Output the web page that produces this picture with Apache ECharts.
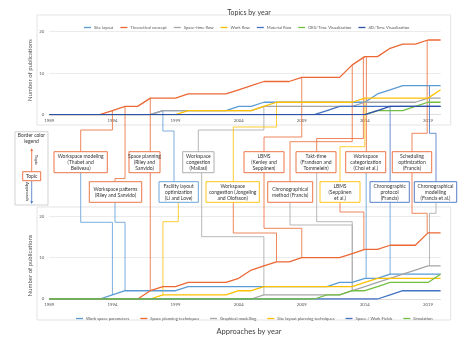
<!DOCTYPE html>
<html><head><meta charset="utf-8">
<script src="https://cdn.jsdelivr.net/npm/echarts@6/dist/echarts.min.js"></script>
<style>html,body{margin:0;padding:0;background:#fff}#main{width:474px;height:341px}</style>
</head><body><div id="main"></div>
<script>
// ---------- DATA ----------
const years = ['1989','1990','1991','1992','1993','1994','1995','1996','1997','1998','1999','2000','2001','2002','2003','2004','2005','2006','2007','2008','2009','2010','2011','2012','2013','2014','2015','2016','2017','2018','2019','2020'];
const yTicks = [0, 10, 20];

const topicNames = ['Site layout','Theoretical concept','Space-time flow','Work flow','Material flow','DES/Time Visualization','4D/Time Visualization'];
const siteLayout   = [0,0,0,0,0,0,0,0,0,1,1,1,1,1,1,2,2,3,3,3,3,3,3,3,3,3,5,6,7,7,7,7];
const theoretical  = [0,0,0,0,0,1,2,2,4,4,4,5,5,5,5,6,7,8,8,8,9,9,9,9,12,14,14,16,17,17,18,18];
const spaceTime    = [0,0,0,0,0,0,0,0,0,1,1,1,1,1,1,1,1,2,2,2,2,2,2,2,2,3,3,3,3,3,4,4];
const workFlow     = [0,0,0,0,0,0,0,0,0,0,0,1,1,1,1,1,1,2,3,3,3,3,3,3,3,4,4,4,4,4,4,6];
const materialFlow = [0,0,0,0,0,0,0,0,0,0,0,0,0,0,0,0,0,0,0,0,0,0,1,2,2,2,2,2,2,2,2,2];
const desTime      = [0,0,0,0,0,0,0,0,0,0,0,0,0,0,0,0,0,0,0,0,0,0,0,0,0,0,1,1,1,2,3,3];
const fourDTime    = [0,0,0,0,0,0,0,0,0,0,0,0,0,0,0,0,0,0,0,0,0,0,0,0,0,0,1,2,2,2,2,2];

const approachNames = ['Work space parameters','Space planning techniques','Graphical modelling','Site layout planning techniques','Space / Work Fields','Simulation'];
const workSpaceParams = [0,0,0,0,0,1,2,2,2,2,2,3,3,3,3,3,3,3,3,3,3,3,3,4,4,5,5,6,6,6,6,6];
const spacePlanning   = [0,0,0,0,0,0,0,0,2,3,3,4,4,4,4,5,7,8,9,9,10,10,10,10,11,12,12,13,13,13,16,16];
const graphical       = [0,0,0,0,0,0,0,0,0,0,0,0,0,0,0,0,0,1,1,1,1,1,1,1,2,3,4,5,6,7,8,8];
const siteLayoutPlan  = [0,0,0,0,0,0,0,0,0,1,1,1,1,1,1,2,2,3,3,3,3,3,3,3,3,4,5,5,5,5,5,5];
const spaceFields     = [0,0,0,0,0,0,0,0,0,0,0,0,0,0,0,0,0,0,0,0,0,0,0,0,0,0,0,1,2,2,2,2];
const simulation      = [0,0,0,0,0,0,0,0,0,0,0,0,0,0,0,0,0,0,0,0,0,0,1,1,2,2,3,4,4,4,4,6];

// ---------- STYLE ----------
const FONT = 'Lato, "Open Sans", sans-serif';
const C = {lb:'#5B9BD5', or:'#EB6834', gr:'#A5A5A5', ye:'#FFC000', bl:'#4472C4', gn:'#72BF44', db:'#2E50A8'};
const topicColors = [C.lb, C.or, C.gr, C.ye, C.bl, C.gn, C.db];
const approachColors = [C.lb, C.or, C.gr, C.ye, C.bl, C.gn];
const topicData = [siteLayout, theoretical, spaceTime, workFlow, materialFlow, desTime, fourDTime];
const approachData = [workSpaceParams, spacePlanning, graphical, siteLayoutPlan, spaceFields, simulation];

const chart = echarts.init(document.getElementById('main'), null, {renderer:'canvas'});

function xAxisCfg(g){ return {type:'category', gridIndex:g, data:years, boundaryGap:false,
  axisLine:{lineStyle:{color:'#d9d9d9', width:0.8}}, axisTick:{show:false},
  axisLabel:{interval:4, fontSize:4.3, color:'#595959', margin:4, fontFamily:FONT}}; }
function yAxisCfg(g){ return {type:'value', gridIndex:g, min:yTicks[0], max:yTicks[yTicks.length-1], interval:yTicks[1]-yTicks[0],
  axisLine:{show:false}, axisTick:{show:false},
  splitLine:{lineStyle:{color:'#e3e3e3', width:0.7}},
  axisLabel:{fontSize:4.3, color:'#595959', margin:5, fontFamily:FONT}}; }

const series = [];
topicNames.forEach((n,i)=>series.push({name:n, type:'line', xAxisIndex:0, yAxisIndex:0, data:topicData[i], symbol:'none',
  lineStyle:{width:1.3, color:topicColors[i]}, itemStyle:{color:topicColors[i]}, z:3}));
approachNames.forEach((n,i)=>series.push({name:n, type:'line', xAxisIndex:1, yAxisIndex:1, data:approachData[i], symbol:'none',
  lineStyle:{width:1.3, color:approachColors[i]}, itemStyle:{color:approachColors[i]}, z:3}));

const legendCommon = {icon:'rect', itemWidth:7, itemHeight:1.3, textStyle:{fontSize:4.2, color:'#595959', fontFamily:FONT, padding:[0,0,0,-2]}};
chart.setOption({
  animation:false,
  backgroundColor:'#fff',
  title:[
    {text:'Topics by year', left:244, top:4, textAlign:'center', textStyle:{fontSize:7, fontWeight:'normal', color:'#404040', fontFamily:FONT}},
    {text:'Approaches by year', left:244, top:323, textAlign:'center', textStyle:{fontSize:7.5, fontWeight:'normal', color:'#404040', fontFamily:FONT}}
  ],
  legend:[
    Object.assign({data:topicNames, left:79, top:20.5, itemGap:7}, legendCommon),
    Object.assign({data:approachNames, left:71, top:311.5, itemGap:11}, legendCommon)
  ],
  grid:[
    {left:49.3, right:33.4, top:31.7, bottom:226.3},
    {left:49.3, right:33.4, top:216.3, bottom:42}
  ],
  xAxis:[xAxisCfg(0), xAxisCfg(1)],
  yAxis:[yAxisCfg(0), yAxisCfg(1)],
  series:series
});

// ---------- DIAGRAM (annotations) ----------
const R1 = 151.7, R1H = 21, R2 = 181.7, R2H = 20.6;
const boxes = [
  {t:'Workspace modeling\n(Thabet and\nBeliveau)', c:C.or, x:54, y:R1, w:53.3, h:R1H},
  {t:'Workspace patterns\n(Riley and Sanvido)', c:C.or, x:89.3, y:R2, w:52.4, h:R2H},
  {t:'Space planning\n(Riley and\nSanvido)', c:C.or, x:129, y:R1, w:31, h:R1H},
  {t:'Workspace\ncongestion\n(Mallasi)', c:C.gr, x:182.7, y:R1, w:31.3, h:R1H},
  {t:'Facility layout\noptimization\n(Li and Love)', c:C.lb, x:159, y:R2, w:39.3, h:R2H},
  {t:'Workspace\ncongestion (Jongeling\nand Olofsson)', c:C.ye, x:206, y:R2, w:53.3, h:R2H},
  {t:'LBMS\n(Kenley and\nSeppänen)', c:C.or, x:244, y:R1, w:40, h:R1H},
  {t:'Chronographical\nmethod (Francis)', c:C.or, x:267.7, y:R2, w:45, h:R2H},
  {t:'Takt-time\n(Frandson and\nTommelein)', c:C.or, x:296, y:R1, w:40, h:R1H},
  {t:'LBMS\n(Seppänen\net al.)', c:C.ye, x:320, y:R2, w:40, h:R2H},
  {t:'Workspace\ncategorization\n(Choi et al.)', c:C.or, x:345.7, y:R1, w:40, h:R1H},
  {t:'Chronographic\nprotocol\n(Francis)', c:C.bl, x:370, y:R2, w:39.3, h:R2H},
  {t:'Scheduling\noptimization\n(Francis)', c:C.or, x:392.3, y:R1, w:39.4, h:R1H},
  {t:'Chronographical\nmodelling\n(Francis et al.)', c:C.bl, x:414.3, y:R2, w:42.4, h:R2H}
];

// connectors from topic points (top chart) down to box tops
const topLinks = [
  {c:C.or, s:[theoretical,'1994',0], m:[['v',130],['h',80.7],['v',R1]]},
  {c:C.or, s:[theoretical,'1995',0], m:[['v',178.5],['h',115],['v',R2]]},
  {c:C.or, s:[theoretical,'1997',0], m:[['v',R1]]},
  {c:C.lb, s:[siteLayout,'1998',0], m:[['v',131],['h',174],['v',R2]]},
  {c:C.gr, s:[spaceTime,'2006',0], m:[['v',130],['h',198.3],['v',R1]]},
  {c:C.ye, s:[workFlow,'2007',0], m:[['v',127],['h',233.3],['v',R2]]},
  {c:C.or, s:[theoretical,'2009',0], m:[['v',137],['h',264],['v',R1]]},
  {c:C.or, s:[theoretical,'2013',0], m:[['v',141.7],['h',290],['v',R2]]},
  {c:C.or, s:[theoretical,'2014',-1.5], m:[['v',138.5],['h',316.7],['v',R1]]},
  {c:C.or, s:[theoretical,'2014',1.5], m:[['v',R1]]},
  {c:C.ye, s:[workFlow,'2014',0], m:[['v',146.7],['h',340],['v',R2]]},
  {c:C.bl, s:[fourDTime,'2016',0], m:[['v',R2]]},
  {c:C.or, s:[theoretical,'2019',-0.8], m:[['v',133.3],['h',412],['v',R1]]},
  {c:C.bl, s:[siteLayout,'2019',1.5], m:[['v',133.3],['h',436],['v',R2]]}
];
// connectors from box bottoms down to approach points (bottom chart)
const botLinks = [
  {c:C.lb, s:[80.7, R1+R1H], m:[['v',222.3]], e:[workSpaceParams,'1994',0]},
  {c:C.lb, s:[115, R2+R2H], m:[['v',222.3]], e:[workSpaceParams,'1995',0]},
  {c:C.or, s:[null, R1+R1H], m:[], e:[spacePlanning,'1997',0]},
  {c:C.ye, s:[178.3, R2+R2H], m:[['v',221.7]], e:[siteLayoutPlan,'1998',0]},
  {c:C.gr, s:[201.7, R1+R1H], m:[['v',236.7]], e:[graphical,'2006',0]},
  {c:C.or, s:[233.3, R2+R2H], m:[['v',233]], e:[spacePlanning,'2007',0]},
  {c:C.or, s:[264, R1+R1H], m:[['v',228.3]], e:[spacePlanning,'2009',0]},
  {c:C.gr, s:[290, R2+R2H], m:[['v',225]], e:[graphical,'2013',0]},
  {c:C.gr, s:[316.7, R1+R1H], m:[['v',221.7]], e:[graphical,'2013',0]},
  {c:C.lb, s:[null, R1+R1H], m:[], e:[workSpaceParams,'2014',1.3]},
  {c:C.or, s:[340, R2+R2H], m:[['v',212]], e:[spacePlanning,'2014',-1]},
  {c:C.lb, s:[null, R2+R2H], m:[], e:[workSpaceParams,'2016',0]},
  {c:C.or, s:[412, R1+R1H], m:[['v',213.3]], e:[spacePlanning,'2019',-0.8]},
  {c:C.gr, s:[436, R2+R2H], m:[['v',213.3]], e:[graphical,'2019',1.5]}
];

function dp(grid, ref){
  const [arr, yr, dx] = ref; const i = years.indexOf(yr);
  const p = chart.convertToPixel({gridIndex:grid}, [i, arr[i]]);
  return [p[0]+dx, p[1]];
}
function walk(start, moves){
  const pts=[start.slice()]; let x=start[0], y=start[1];
  moves.forEach(([k,v])=>{ if(k==='v') y=v; else x=v; pts.push([x,y]); });
  return pts;
}
const graphics = [];
// chart frames
graphics.push({type:'rect', shape:{x:37, y:15, width:413.7, height:110}, style:{fill:null, stroke:'#d9d9d9', lineWidth:0.7}, z:0, silent:true});
graphics.push({type:'rect', shape:{x:37, y:207, width:413.7, height:113}, style:{fill:null, stroke:'#d9d9d9', lineWidth:0.7}, z:0, silent:true});
// axis names
[[30,70],[30,265.5]].forEach(([x,y])=>graphics.push({type:'text', x:x, y:y, rotation:Math.PI/2,
  style:{text:'Number of publications', align:'center', verticalAlign:'middle', fill:'#595959', font:'6px '+FONT}, z:5, silent:true}));

topLinks.forEach(l=>{
  const pts = walk(dp(0,l.s), l.m);
  graphics.push({type:'polyline', shape:{points:pts}, style:{stroke:l.c, lineWidth:0.8, fill:null}, z:1, silent:true});
});
botLinks.forEach(l=>{
  const e = dp(1,l.e); const s = l.s.slice(); if(s[0]===null) s[0]=e[0];
  const pts = walk(s, l.m); const last = pts[pts.length-1];
  if(last[0]!==e[0]) pts.push([e[0], last[1]]);
  pts.push(e);
  graphics.push({type:'polyline', shape:{points:pts}, style:{stroke:l.c, lineWidth:0.8, fill:null}, z:1, silent:true});
});
boxes.forEach(b=>{
  graphics.push({type:'rect', shape:{x:b.x, y:b.y, width:b.w, height:b.h}, style:{fill:'#fff', stroke:b.c, lineWidth:0.9}, z:5, silent:true});
  graphics.push({type:'text', x:b.x+b.w/2, y:b.y+b.h/2, style:{text:b.t, align:'center', verticalAlign:'middle', fill:'#333', font:'5px '+FONT, lineHeight:6}, z:6, silent:true});
});
// border colour legend
graphics.push({type:'rect', shape:{x:15, y:131.7, width:33, height:73.3}, style:{fill:'#fff', stroke:'#bfbfbf', lineWidth:0.7}, z:5, silent:true});
graphics.push({type:'text', x:31.5, y:138.5, style:{text:'Border color\nlegend', align:'center', verticalAlign:'middle', fill:'#333', font:'5px '+FONT, lineHeight:6.5}, z:6, silent:true});
graphics.push({type:'line', shape:{x1:31.7, y1:171.7, x2:31.7, y2:150}, style:{stroke:C.or, lineWidth:0.8}, z:6, silent:true});
graphics.push({type:'polygon', shape:{points:[[30.3,151],[33.1,151],[31.7,148.3]]}, style:{fill:C.or}, z:6, silent:true});
graphics.push({type:'line', shape:{x1:31.7, y1:180.7, x2:31.7, y2:202}, style:{stroke:C.bl, lineWidth:0.8}, z:6, silent:true});
graphics.push({type:'polygon', shape:{points:[[30.3,201.3],[33.1,201.3],[31.7,204]]}, style:{fill:C.bl}, z:6, silent:true});
graphics.push({type:'rect', shape:{x:22.7, y:171.7, width:18, height:9}, style:{fill:'#fff', stroke:C.or, lineWidth:0.9}, z:6, silent:true});
graphics.push({type:'text', x:31.7, y:176.3, style:{text:'Topic', align:'center', verticalAlign:'middle', fill:'#333', font:'5px '+FONT}, z:7, silent:true});
graphics.push({type:'text', x:36.5, y:160, rotation:-Math.PI/2, style:{text:'Topic', align:'center', verticalAlign:'middle', fill:'#333', font:'4.5px '+FONT}, z:7, silent:true});
graphics.push({type:'text', x:27, y:191.5, rotation:-Math.PI/2, style:{text:'Approach', align:'center', verticalAlign:'middle', fill:'#333', font:'4.5px '+FONT}, z:7, silent:true});

chart.setOption({graphic:{elements:graphics}});
</script></body></html>
